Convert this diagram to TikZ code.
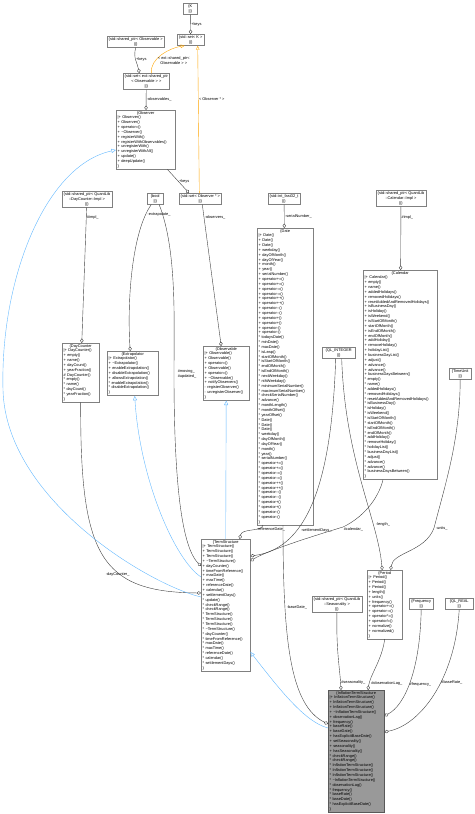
\documentclass[tikz,border=0pt]{standalone}
\usepackage{fontspec}
\setmainfont{Liberation Sans}
\usetikzlibrary{arrows.meta}
\definecolor{inhblue}{RGB}{99,184,255}
\definecolor{tplorange}{RGB}{255,165,0}
\newcommand{\ctitle}[1]{\centering\{#1\par\raggedright}
\newcommand{\cclose}{\par\centering\}}

\begin{document}
\begin{tikzpicture}[x=1pt, y=-1pt,
    txt/.style={font=\fontsize{3.9}{4.85}\selectfont},
    clsbox/.style={txt, draw=black!50, fill=white, line width=0.4pt,
                   anchor=north west, inner xsep=1.5pt, inner ysep=1pt},
    tbox/.style={clsbox, align=center, inner ysep=1.4pt},
    mainbox/.style={clsbox, fill=black!40, draw=black!65},
    lbl/.style={txt, inner sep=0.6pt},
    mem/.style={draw=black!75, line width=0.4pt, -{Diamond[open, length=4.5pt, width=3.4pt]}},
    inh/.style={draw=inhblue, line width=0.4pt, {Triangle[open, length=4.5pt, width=4pt]}-},
    tpl/.style={draw=tplorange, line width=0.4pt, -{Triangle[open, length=4pt, width=3.4pt]}},
]
\useasboundingbox (0,0) rectangle (474,814);

% top: std::set templates
\node[tbox, minimum width=14pt] (k) at (183,3) {\{K\\||\}};
\node[tbox, minimum width=27pt] (setk) at (177,34) {\{std::set< K >\\||\}};
\node[tbox, minimum width=55pt] (spobs) at (107,36) {\{std::shared\_ptr< Observable >\\||\}};
\node[tbox, minimum width=42pt] (setext) at (123,73) {\{std::set< ext::shared\_ptr\\< Observable > >\\||\}};
\node[clsbox, text width=56pt] (observer) at (116,110) {\ctitle{Observer}|+ Observer()\\+ Observer()\\+ operator=()\\+ \textasciitilde{}Observer()\\+ registerWith()\\+ registerWithObservables()\\+ unregisterWith()\\+ unregisterWithAll()\\+ update()\\+ deepUpdate()\cclose};
\node[tbox, minimum width=41pt] (setobs) at (179,193) {\{std::set< Observer * >\\||\}};

% second row
\node[tbox, minimum width=49pt] (spdc) at (62,191) {\{std::shared\_ptr< QuantLib\\::DayCounter::Impl >\\||\}};
\node[tbox, minimum width=16pt] (boolt) at (147,193) {\{bool\\||\}};
\node[tbox, minimum width=30pt] (intfast) at (268,193) {\{std::int\_fast32\_t\\||\}};
\node[tbox, minimum width=49pt] (spcal) at (376,190) {\{std::shared\_ptr< QuantLib\\::Calendar::Impl >\\||\}};

% member classes
\node[clsbox, text width=34pt] (daycounter) at (62,343) {\ctitle{DayCounter}|+ DayCounter()\\+ empty()\\+ name()\\+ dayCount()\\+ yearFraction()\\\# DayCounter()\\{}* empty()\\{}* name()\\{}* dayCount()\\{}* yearFraction()\cclose};
\node[clsbox, text width=48pt] (extrap) at (107,351) {\ctitle{Extrapolator}|+ Extrapolator()\\+ \textasciitilde{}Extrapolator()\\+ enableExtrapolation()\\+ disableExtrapolation()\\+ allowsExtrapolation()\\{}* enableExtrapolation()\\{}* disableExtrapolation()\cclose};
\node[clsbox, text width=43pt] (observable) at (203,346) {\ctitle{Observable}|+ Observable()\\+ Observable()\\+ operator=()\\+ Observable()\\+ operator=()\\+ \textasciitilde{}Observable()\\+ notifyObservers()\\- registerObserver()\\- unregisterObserver()\cclose};
\node[clsbox, text width=53pt] (date) at (257,228) {\ctitle{Date}|+ Date()\\+ Date()\\+ Date()\\+ weekday()\\+ dayOfMonth()\\+ dayOfYear()\\+ month()\\+ year()\\+ serialNumber()\\+ operator+=()\\+ operator+=()\\+ operator-=()\\+ operator-=()\\+ operator++()\\+ operator++()\\+ operator-{}-()\\+ operator-{}-()\\+ operator+()\\+ operator+()\\+ operator-()\\+ operator-()\\{}* todaysDate()\\{}* minDate()\\{}* maxDate()\\{}* isLeap()\\{}* startOfMonth()\\{}* isStartOfMonth()\\{}* endOfMonth()\\{}* isEndOfMonth()\\{}* nextWeekday()\\{}* nthWeekday()\\{}* minimumSerialNumber()\\{}* maximumSerialNumber()\\{}* checkSerialNumber()\\{}* advance()\\{}* monthLength()\\{}* monthOffset()\\{}* yearOffset()\\{}* Date()\\{}* Date()\\{}* Date()\\{}* weekday()\\{}* dayOfMonth()\\{}* dayOfYear()\\{}* month()\\{}* year()\\{}* serialNumber()\\{}* operator+=()\\{}* operator+=()\\{}* operator-=()\\{}* operator-=()\\{}* operator++()\\{}* operator++()\\{}* operator-{}-()\\{}* operator-{}-()\\{}* operator+()\\{}* operator+()\\{}* operator-()\\{}* operator-()\cclose};
\node[tbox, minimum width=33pt] (qlint) at (322,347) {\{QL\_INTEGER\\||\}};
\node[clsbox, text width=71pt] (calendar) at (363,270) {\ctitle{Calendar}|+ Calendar()\\+ empty()\\+ name()\\+ addedHolidays()\\+ removedHolidays()\\+ resetAddedAndRemovedHolidays()\\+ isBusinessDay()\\+ isHoliday()\\+ isWeekend()\\+ isStartOfMonth()\\+ startOfMonth()\\+ isEndOfMonth()\\+ endOfMonth()\\+ addHoliday()\\+ removeHoliday()\\+ holidayList()\\+ businessDayList()\\+ adjust()\\+ advance()\\+ advance()\\+ businessDaysBetween()\\{}* empty()\\{}* name()\\{}* addedHolidays()\\{}* removedHolidays()\\{}* resetAddedAndRemovedHolidays()\\{}* isBusinessDay()\\{}* isHoliday()\\{}* isWeekend()\\{}* isStartOfMonth()\\{}* startOfMonth()\\{}* isEndOfMonth()\\{}* endOfMonth()\\{}* addHoliday()\\{}* removeHoliday()\\{}* holidayList()\\{}* businessDayList()\\{}* adjust()\\{}* advance()\\{}* advance()\\{}* businessDaysBetween()\cclose};
\node[tbox, minimum width=22pt] (timeunit) at (449,368) {\{TimeUnit\\||\}};

% TermStructure and its neighbours
\node[clsbox, text width=46pt] (ts) at (201,539) {\ctitle{TermStructure}|+ TermStructure()\\+ TermStructure()\\+ TermStructure()\\+ \textasciitilde{}TermStructure()\\+ dayCounter()\\+ timeFromReference()\\+ maxDate()\\+ maxTime()\\+ referenceDate()\\+ calendar()\\+ settlementDays()\\{}* update()\\{}* checkRange()\\{}* checkRange()\\{}* TermStructure()\\{}* TermStructure()\\{}* TermStructure()\\{}* \textasciitilde{}TermStructure()\\{}* dayCounter()\\{}* timeFromReference()\\{}* maxDate()\\{}* maxTime()\\{}* referenceDate()\\{}* calendar()\\{}* settlementDays()\cclose};
\node[tbox, minimum width=48pt] (spseas) at (312,596) {\{std::shared\_ptr< QuantLib\\::Seasonality >\\||\}};
\node[clsbox, text width=32pt] (period) at (367,570) {\ctitle{Period}|+ Period()\\+ Period()\\+ Period()\\+ length()\\+ units()\\+ frequency()\\+ operator+=()\\+ operator-=()\\+ operator*=()\\+ operator/=()\\+ normalize()\\+ normalized()\cclose};
\node[tbox, minimum width=24pt] (freq) at (409,598) {\{Frequency\\||\}};
\node[tbox, minimum width=28pt] (qlreal) at (445,598) {\{QL\_REAL\\||\}};
\node[mainbox, text width=53pt] (its) at (328,690) {\ctitle{InflationTermStructure}|+ InflationTermStructure()\\+ InflationTermStructure()\\+ InflationTermStructure()\\+ \textasciitilde{}InflationTermStructure()\\+ observationLag()\\+ frequency()\\+ baseRate()\\+ baseDate()\\+ hasExplicitBaseDate()\\+ setSeasonality()\\+ seasonality()\\+ hasSeasonality()\\{}* checkRange()\\{}* checkRange()\\{}* InflationTermStructure()\\{}* InflationTermStructure()\\{}* InflationTermStructure()\\{}* \textasciitilde{}InflationTermStructure()\\{}* observationLag()\\{}* frequency()\\{}* baseRate()\\{}* baseDate()\\{}* hasExplicitBaseDate()\cclose};

% connectors
\draw[mem] (k) -- (setk) node[lbl, midway, right] {+keys};
\draw[mem] (spobs.south) .. controls (133,58) and (137,62) .. ([xshift=-7pt]setext.north) node[lbl, pos=0.45, right] {+keys};
\draw[tpl] ([xshift=5pt]setext.north) .. controls (150,58) and (170,48) .. ([xshift=-6pt]setk.south)
    node[lbl, pos=0.3, right=2pt, align=center] {< ext::shared\_ptr<\\Observable > >};
\draw[tpl] ([xshift=-1pt]setobs.north) -- ([xshift=7pt]setk.south) node[lbl, pos=0.64, right] {< Observer * >};
\draw[mem] (setext) -- (observer) node[lbl, midway, right] {-observables\_};
\draw[mem] ([xshift=-8pt]observer.south east) -- ([xshift=10pt]setobs.north west) node[lbl, midway, right] {+keys};
\draw[mem] ([xshift=2pt]setobs.south) -- ([xshift=-5pt]observable.north) node[lbl, pos=0.09, right] {-observers\_};

\draw[mem] (spdc) -- (daycounter) node[lbl, pos=0.07, right] {\#impl\_};
\draw[mem] ([xshift=-4pt]boolt.south) .. controls (132,232) and (127,300) .. ([xshift=-2.5pt]extrap.north)
    node[lbl, pos=0.1, right=1pt] {-extrapolate\_};
\draw[mem] ([xshift=4pt]boolt.south) .. controls (177,250) and (174,320) .. (174,374)
    node[lbl, right=3pt, align=left] {\#moving\_\\\#updated\_}
    .. controls (174,470) and (180,545) .. ([yshift=-27pt]ts.north west);
\draw[mem] (daycounter.south) .. controls (80,555) and (100,592) .. ([yshift=-54pt]ts.north west)
    node[lbl, pos=0.62, below] {-dayCounter\_};
\draw[inh] ([xshift=2pt]extrap.south) .. controls (140,480) and (175,560) .. ([yshift=-38pt]ts.north west);
\draw[inh] ([yshift=-40pt]observer.north west) .. controls (45,165) and (0,280) .. (3,390)
    .. controls (6,500) and (150,585) .. ([yshift=-58pt]ts.north west);
\draw[inh] (observable.south) -- (ts.north);

\draw[mem] (intfast) -- (date) node[lbl, midway, right] {-serialNumber\_};
\draw[mem] ([xshift=6pt]date.south west) .. controls (262,532) and (242,528) .. ([xshift=14pt]ts.north)
    node[lbl, pos=0.4, right=1pt] {-referenceDate\_};
\draw[mem] ([xshift=26pt]date.south west) .. controls (283,640) and (290,705) .. ([yshift=-34pt]its.north west)
    node[lbl, pos=0.27, right=1pt] {-baseDate\_};
\draw[mem] ([xshift=-3pt]qlint.south) .. controls (332,470) and (312,548) .. ([yshift=-17pt]ts.north east)
    node[lbl, pos=0.7, right=5pt] {-settlementDays\_};
\draw[mem] ([xshift=20pt]calendar.south west) .. controls (378,500) and (362,518) .. (343,527)
    node[lbl, below right=0pt] {\#calendar\_}
    .. controls (300,540) and (265,552) .. ([yshift=-22pt]ts.north east);
\draw[mem] ([xshift=3pt]qlint.south) .. controls (345,460) and (378,520) .. ([xshift=-2.5pt]period.north)
    node[lbl, pos=0.72, right=2pt] {-length\_};
\draw[mem] (spcal) -- (calendar) node[lbl, pos=0.17, right] {\#impl\_};
\draw[mem] (timeunit.south) .. controls (460,440) and (445,485) .. (434,528)
    node[lbl, right=1pt] {-units\_}
    .. controls (425,552) and (393,552) .. ([xshift=6pt]period.north);

\draw[inh] ([yshift=-113pt]ts.north east) .. controls (280,690) and (305,722) .. ([yshift=-38pt]its.north west);
\draw[mem] (spseas.south) .. controls (336,650) and (340,670) .. ([xshift=13pt]its.north west)
    node[lbl, pos=0.88, right] {\#seasonality\_};
\draw[mem] (period.south) .. controls (382,660) and (370,675) .. ([xshift=40pt]its.north west)
    node[lbl, pos=0.85, right=1pt] {\#observationLag\_};
\draw[mem] (freq.south) .. controls (420,670) and (405,705) .. ([yshift=-26pt]its.north east)
    node[lbl, pos=0.53, right] {\#frequency\_};
\draw[mem] (qlreal.south) .. controls (455,680) and (420,725) .. ([yshift=-42pt]its.north east)
    node[lbl, pos=0.41, right] {\#baseRate\_};
\end{tikzpicture}
\end{document}
